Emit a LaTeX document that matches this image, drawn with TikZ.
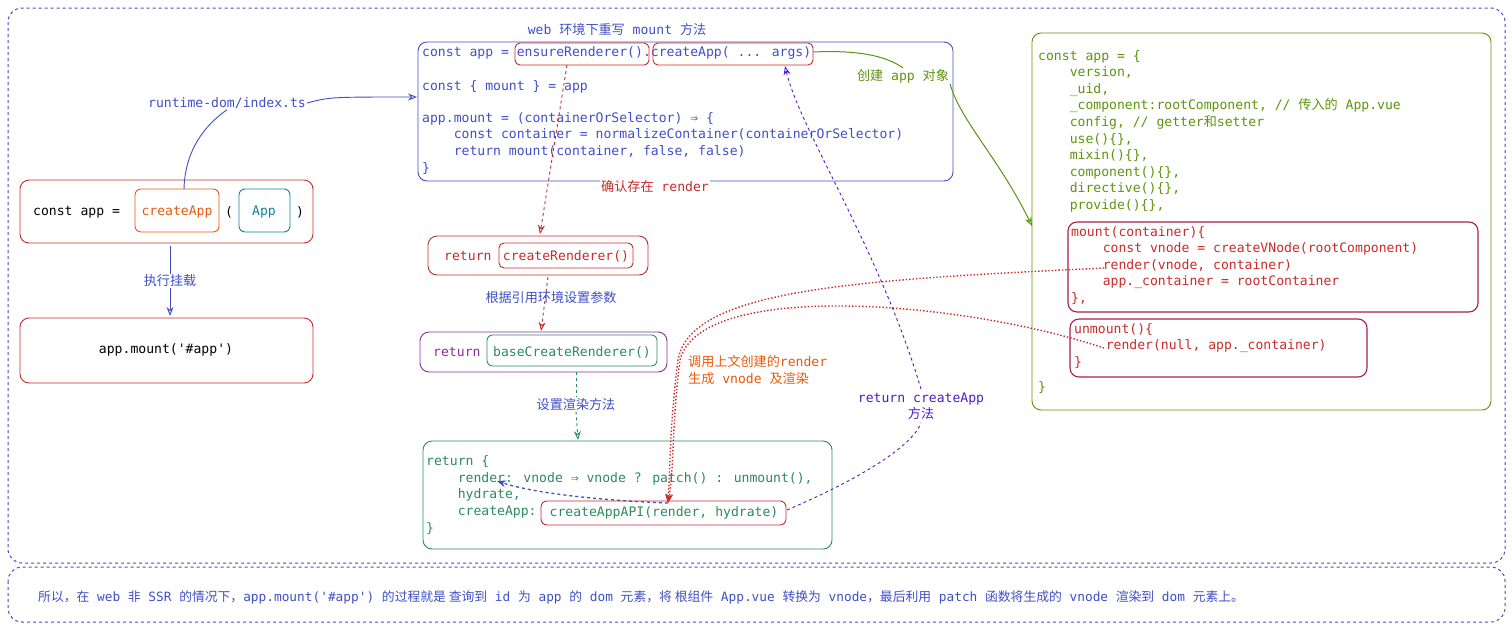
\documentclass[tikz,border=0pt]{standalone}
\usepackage{fontspec}
\setmainfont{DejaVu Sans Mono}
\newfontfamily\cjk{Noto Sans CJK SC}
\usetikzlibrary{arrows.meta}
\definecolor{cblue}{HTML}{3F4FC6}
\definecolor{cred}{HTML}{C92A2A}
\definecolor{cgreen}{HTML}{5C940D}
\definecolor{cteal}{HTML}{0C8599}
\definecolor{corange}{HTML}{E8590C}
\definecolor{cpurple}{HTML}{862E9C}
\definecolor{cdgreen}{HTML}{2B8A5E}
\definecolor{cmaroon}{HTML}{A61E4D}
\newcommand{\sq}{\textquotesingle}
\tikzset{
  box/.style={draw,rounded corners=9pt,line width=0.9pt},
  code/.style={anchor=west,font=\fontsize{13.1}{16.6}\selectfont,align=left,inner sep=0pt},
  cf/.style={font=\fontsize{13.1}{15}\selectfont},
  lbl/.style={font=\fontsize{13.1}{16}\selectfont,inner sep=1pt,fill=white},
  arr/.style={-{Stealth[length=9pt,width=7pt,open]},line width=0.9pt},
}
\begin{document}
\begin{tikzpicture}[x=1pt,y=-1pt]
\useasboundingbox (0,0) rectangle (1512,627);
% outer boxes
\draw[cblue,dashed,line width=1pt,rounded corners=14pt] (8,8) rectangle (1505,563);
\draw[cblue,dashed,line width=1pt,rounded corners=14pt] (8,567) rectangle (1505,622);
\node[code,text=cblue,font=\fontsize{12.8}{16}\selectfont] (summary) at (38,597) {{\cjk 所以，在} web {\cjk 非} SSR {\cjk 的情况下，}app.mount(\sq\#app\sq) {\cjk 的过程就是 查询到} id {\cjk 为} app {\cjk 的} dom {\cjk 元素，将 根组件} App.vue {\cjk 转换为} vnode{\cjk ，最后利用} patch {\cjk 函数将生成的} vnode {\cjk 渲染到} dom {\cjk 元素上。}};

% left column
\draw[box,cred] (20,180) rectangle (313,243);
\node[code] (constapp) at (33,212) {const app =};
\draw[box,corange,rounded corners=6pt] (135,189) rectangle (219,232);
\node[text=corange,cf] (cApp) at (177,212) {createApp};
\node[cf] (lp) at (229,212) {(};
\draw[box,cteal,rounded corners=6pt] (239,189) rectangle (290,232);
\node[text=cteal,cf] (App) at (264,212) {App};
\node[cf] (rp) at (300,212) {)};
\coordinate (leftbot) at (170,246);
\draw[box,cred] (20,318) rectangle (313,383);
\node[cf] (mountapp) at (166,350) {app.mount(\sq\#app\sq)};
\coordinate (mounttop) at (170,316);
\node[lbl,text=cblue] (zx) at (170,281) {\cjk 执行挂载};
\draw[cblue,line width=0.9pt] (leftbot) -- (zx);
\draw[arr,cblue] (zx) -- (mounttop);

% runtime-dom label
\node[lbl,text=cblue] (rtd) at (227,103) {runtime-dom/index.ts};
\coordinate (cAppTop) at (184,189);
\coordinate (mainL) at (417,97);
\draw[cblue,line width=0.9pt] (cAppTop) .. controls (185,150) and (205,125) .. (rtd.south);
\draw[arr,cblue] (rtd.east) .. controls (330,97) .. (mainL);

% main box
\draw[box,cblue] (418,42) rectangle (953,181);
\node[text=cblue,cf] (webl) at (617,30) {web {\cjk 环境下重写} mount {\cjk 方法}};
\node[code,text=cblue] (l1) at (422,53) {const app = ensureRenderer().createApp( ... args)};
\node[code,text=cblue] (l2) at (422,87) {const \{ mount \} = app};
\node[code,text=cblue,anchor=north west] (l3) at (422,112) {app.mount = (containerOrSelector) ⇒ \{\\
\ \ \ \ const container = normalizeContainer(containerOrSelector)\\
\ \ \ \ return mount(container, false, false)\\
\}};
\draw[box,cred,rounded corners=5pt] (515,43) rectangle (649,65);
\coordinate (ensB) at (567,65);
\draw[box,cred,rounded corners=5pt] (653,43) rectangle (813,65);
\coordinate (caR) at (813,52);
\coordinate (caB) at (785,66);

% create app object arrow
\node[lbl,text=cgreen] (cjl) at (903,76) {{\cjk 创建} app {\cjk 对象}};
\coordinate (rightL) at (1032,226);
\draw[cgreen,line width=1pt] (caR) .. controls (855,50) and (885,55) .. (cjl.north);
\draw[arr,cgreen,line width=1pt] (cjl.south east) .. controls (960,120) and (1000,160) .. (rightL);

% confirm render
\node[lbl,text=cred] (qr) at (655,187) {{\cjk 确认存在} render};
\draw[box,cred] (428,236) rectangle (648,275);
\node[code,text=cred] (ret1) at (444,256) {return};
\draw[box,cred,rounded corners=5pt] (499,243) rectangle (633,268);
\node[text=cred,cf] (ccr) at (566,256) {createRenderer()};
\coordinate (crTop) at (540,234);
\draw[arr,cred,dashed] (ensB) -- (crTop);

\node[lbl,text=cblue] (gj) at (551,298) {\cjk 根据引用环境设置参数};
\coordinate (crBot) at (548,277);
\coordinate (bcrTop) at (541,331);
\draw[arr,cred,dashed] (crBot) -- (bcrTop);

\draw[box,cpurple] (420,332) rectangle (667,372);
\node[code,text=cpurple] (ret2) at (433,352) {return};
\draw[box,cdgreen,rounded corners=5pt] (487,335) rectangle (657,366);
\node[text=cdgreen,cf] (bcr) at (572,352) {baseCreateRenderer()};
\coordinate (bcrBot) at (576,372);
\coordinate (retTop) at (578,440);
\node[lbl,text=cblue] (sz) at (576,404) {\cjk 设置渲染方法};
\draw[cdgreen,dashed,line width=0.9pt] (bcrBot) -- (sz.north);
\draw[arr,cdgreen,dashed] (sz.south) -- (retTop);

% return box
\draw[box,cdgreen] (423,441) rectangle (832,549);
\node[code,text=cdgreen] (rl) at (426,495) {return \{\\
\ \ \ \ render: vnode ⇒ vnode ? patch() : unmount(),\\
\ \ \ \ hydrate,\\
\ \ \ \ createApp:\\
\}};
\draw[box,cred,rounded corners=6pt] (541,501) rectangle (786,525);
\node[text=cdgreen,cf] (capi) at (664,513) {createAppAPI(render, hydrate)};
\coordinate (capiT) at (668,503);
\coordinate (renderR) at (497,481);
\draw[arr,cblue,dashed,line width=1.3pt] (capiT) .. controls (590,500) and (530,492) .. (renderR);

% return createApp
\node[text=cpurple!60!blue,font=\fontsize{13.1}{16}\selectfont,align=center] (rca) at (921,406) {return createApp\\{\cjk 方法}};
\coordinate (capiR) at (787,510);
\draw[cpurple!60!blue,dashed,line width=0.9pt] (capiR) .. controls (880,470) and (915,440) .. (rca.south);
\draw[arr,cpurple!60!blue,dashed] (rca.north) .. controls (880,250) and (800,130) .. (caB);

% right box
\draw[box,cgreen] (1032,33) rectangle (1491,410);
\node[code,text=cgreen,anchor=north west] (obj) at (1038,50) {const app = \{\\
\ \ \ \ version,\\
\ \ \ \ \_uid,\\
\ \ \ \ \_component:rootComponent, // {\cjk 传入的} App.vue\\
\ \ \ \ config, // getter{\cjk 和}setter\\
\ \ \ \ use()\{\},\\
\ \ \ \ mixin()\{\},\\
\ \ \ \ component()\{\},\\
\ \ \ \ directive()\{\},\\
\ \ \ \ provide()\{\},};
\node[code,text=cgreen] (objend) at (1038,388) {\}};
\draw[box,cmaroon,line width=1.1pt] (1068,222) rectangle (1478,312);
\node[code,text=cred,anchor=north west] (mnt) at (1071,226) {mount(container)\{\\
\ \ \ \ const vnode = createVNode(rootComponent)\\
\ \ \ \ render(vnode, container)\\
\ \ \ \ app.\_container = rootContainer\\
\},};
\draw[box,cmaroon,line width=1.1pt] (1070,319) rectangle (1367,377);
\node[code,text=cred,anchor=north west] (umnt) at (1074,323) {unmount()\{\\
\ \ \ \ render(null, app.\_container)\\
\}};
\coordinate (mr) at (1104,268);
\coordinate (ur) at (1104,348);

% dotted calls
\node[code,text=corange] (call) at (688,370) {{\cjk 调用上文创建的}render\\{\cjk 生成} vnode {\cjk 及渲染}};
\draw[-{Stealth[length=9pt,width=7pt,open]},cred,dotted,line width=1.4pt] (mr) .. controls (850,280) and (690,290) .. (678,360) .. controls (670,420) and (670,470) .. (capiT);
\draw[-{Stealth[length=9pt,width=7pt,open]},cred,dotted,line width=1.4pt] (ur) .. controls (960,300) and (700,280) .. (680,360) .. controls (672,420) and (674,470) .. (capiT);
\end{tikzpicture}
\end{document}
